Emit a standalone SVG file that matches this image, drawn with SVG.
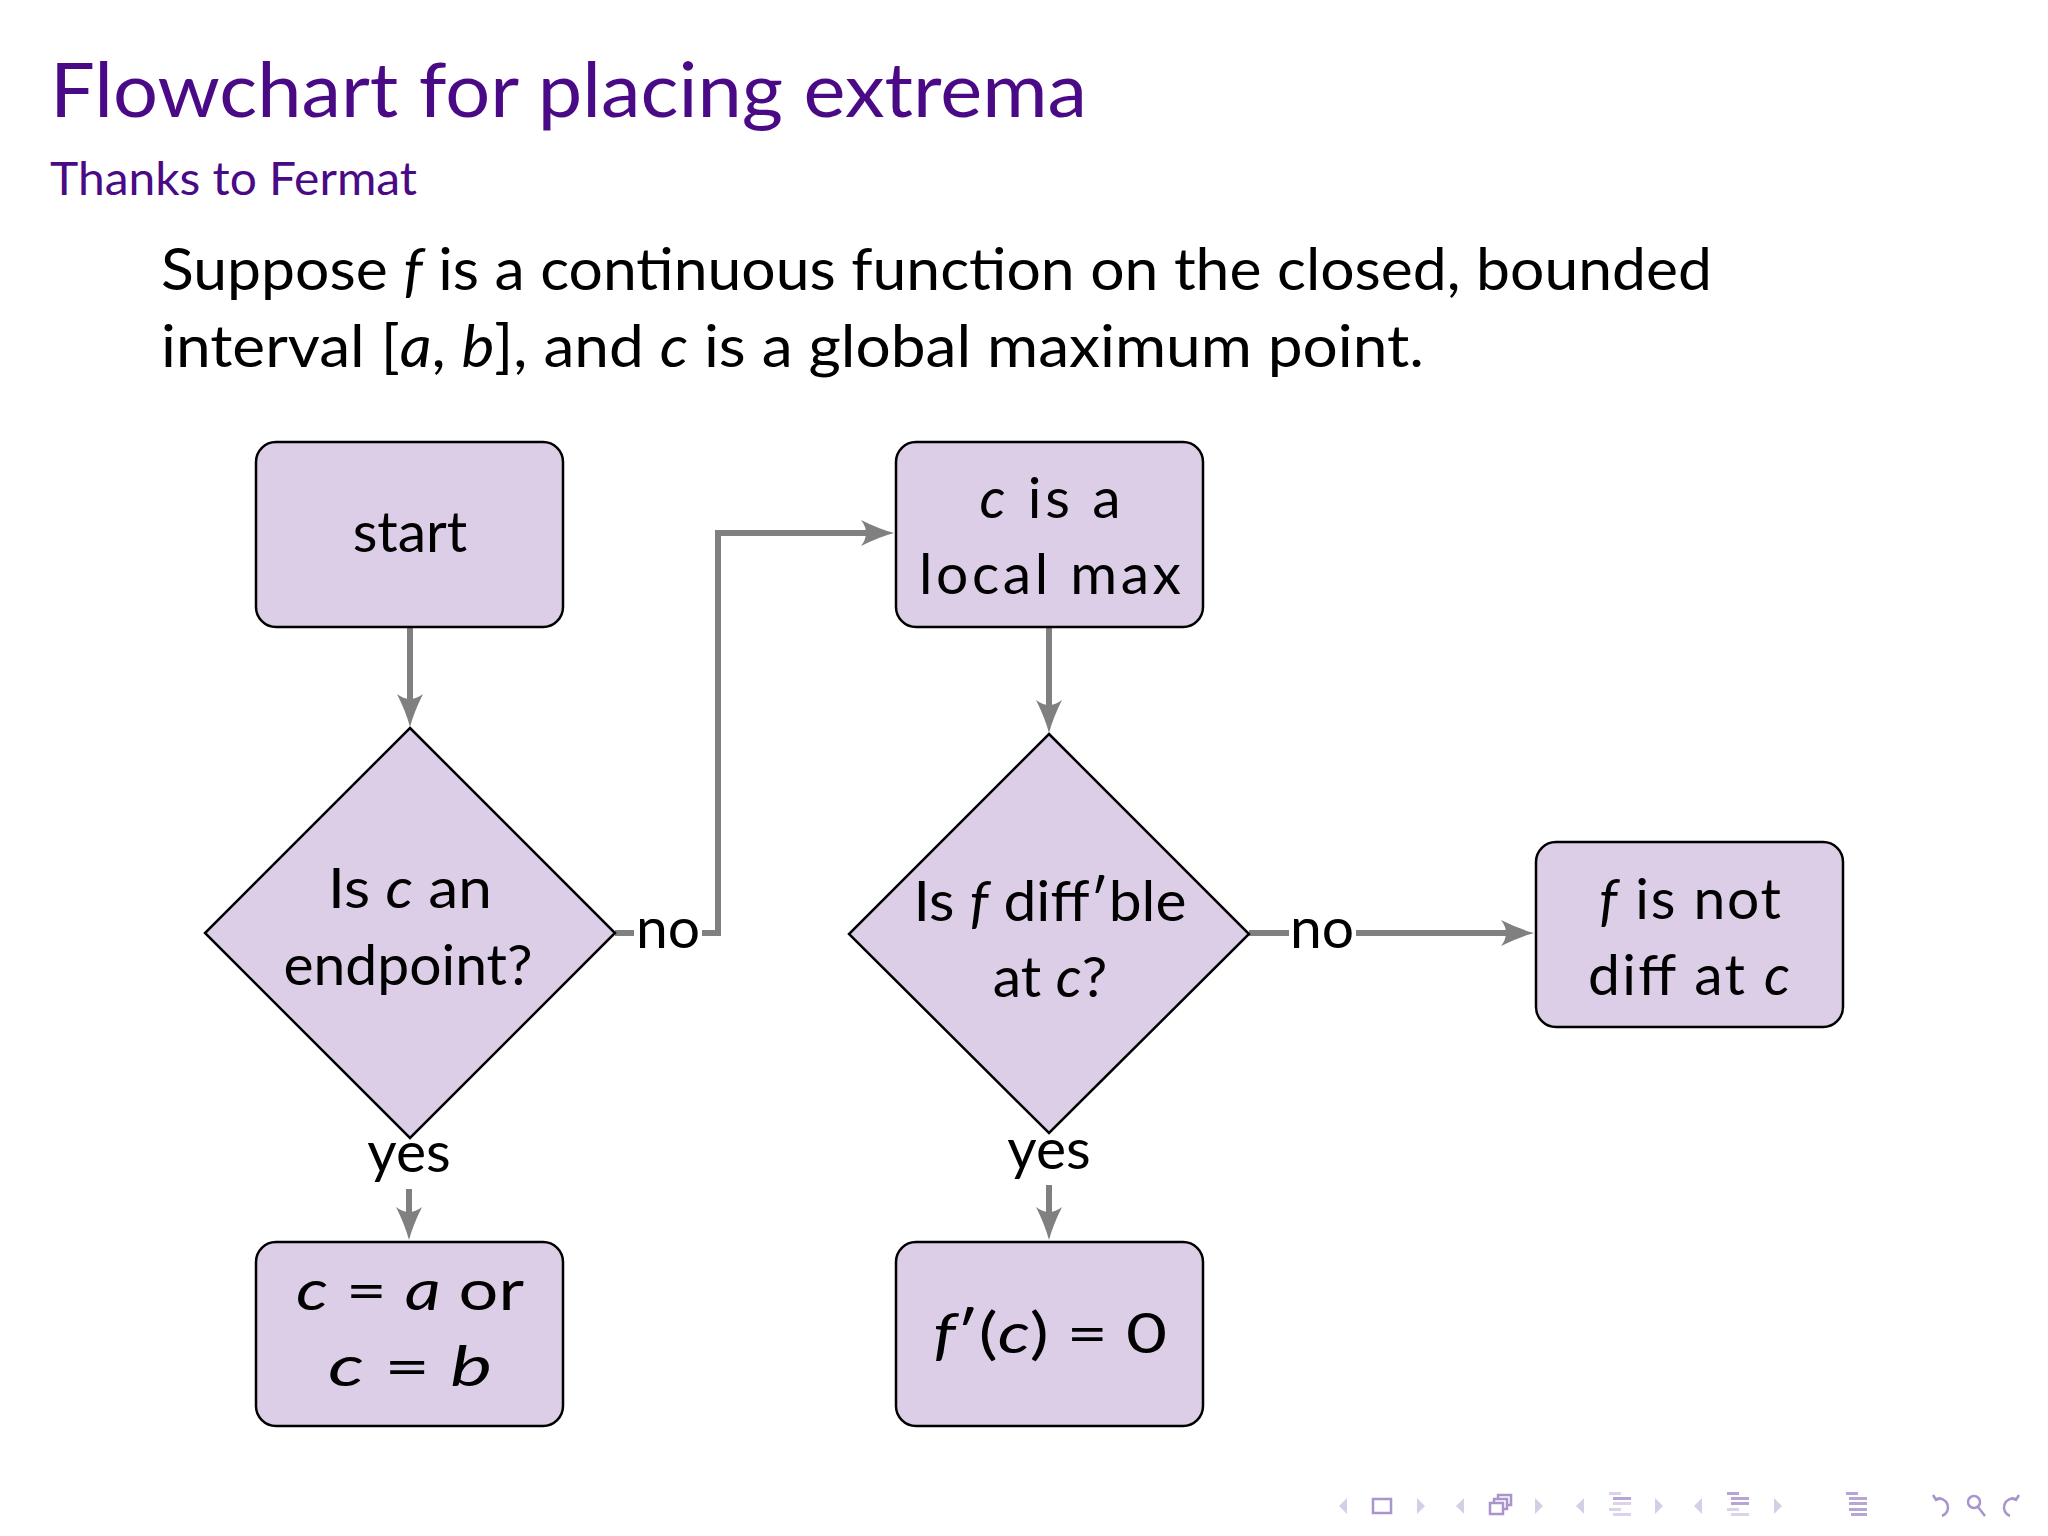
<svg xmlns="http://www.w3.org/2000/svg" width="2048" height="1536" viewBox="0 0 2048 1536">
<style>
text{font-family:Lato,"Open Sans","DejaVu Sans",sans-serif;}
.title{fill:#4A0A86;font-size:76px;}
.sub{fill:#4A0A86;font-size:46px;}
.body{fill:#000;font-size:58px;}
.nt{fill:#000;font-size:57px;text-anchor:middle;}
.i{font-style:italic;}
.node{fill:#DCCEE6;stroke:#000;stroke-width:2.5;}
.conn{fill:none;stroke:#808080;stroke-width:6;}
.lbg{fill:#FFFFFF;}
.navt{fill:#D6CEE6;}
.navs{fill:none;stroke:#A994CB;stroke-width:2.5;}
.navb{fill:#B7A5D3;}
.navl{fill:#DCD3EA;}
</style>
<defs>
<marker id="arr" markerUnits="userSpaceOnUse" viewBox="-36 -16 40 32" markerWidth="40" markerHeight="32" refX="-20" refY="0" orient="auto">
<path d="M0,0 Q-15,-4 -33,-13 Q-23,0 -33,13 Q-15,4 0,0 Z" fill="#808080"/>
</marker>
</defs>
<rect x="0" y="0" width="2048" height="1536" fill="#FFFFFF"/>

<g id="header">
<text class="title" x="50" y="117" textLength="1037" lengthAdjust="spacingAndGlyphs">Flowchart for placing extrema</text>
<text class="sub" x="50" y="195" textLength="367" lengthAdjust="spacingAndGlyphs">Thanks to Fermat</text>
<text class="body" x="161" y="290" textLength="1551" lengthAdjust="spacingAndGlyphs">Suppose <tspan class="i">f</tspan> is a continuous function on the closed, bounded</text>
<text class="body" x="161" y="367" textLength="1263" lengthAdjust="spacingAndGlyphs">interval [<tspan class="i">a</tspan>, <tspan class="i">b</tspan>], and <tspan class="i">c</tspan> is a global maximum point.</text>
</g>

<g id="connectors">
<path class="conn" d="M410,627 V707" marker-end="url(#arr)"/>
<path class="conn" d="M615,933 H718 V533 H874" marker-end="url(#arr)"/>
<path class="conn" d="M1049,627 V713" marker-end="url(#arr)"/>
<path class="conn" d="M1249,933 H1514" marker-end="url(#arr)"/>
<path class="conn" d="M409,1189 V1220" marker-end="url(#arr)"/>
<path class="conn" d="M1049,1185 V1220" marker-end="url(#arr)"/>
<rect class="lbg" x="634" y="905" width="68" height="56"/>
<text class="nt" x="668" y="948">no</text>
<rect class="lbg" x="1289" y="905" width="67" height="56"/>
<text class="nt" x="1322" y="948">no</text>
<text class="nt" x="409" y="1172">yes</text>
<text class="nt" x="1049" y="1169">yes</text>
</g>

<g id="node-start">
<rect class="node" x="256" y="442" width="307" height="185" rx="20"/>
<text class="nt" x="410" y="552">start</text>
</g>

<g id="node-endpoint">
<polygon class="node" points="410,728 615,933 410,1138 205,933"/>
<text class="nt" x="410" y="908" textLength="164" lengthAdjust="spacingAndGlyphs">Is <tspan class="i">c</tspan> an</text>
<text class="nt" x="408" y="985">endpoint?</text>
</g>

<g id="node-endval">
<rect class="node" x="256" y="1242" width="307" height="184" rx="20"/>
<text class="nt" x="410" y="1310" textLength="228" lengthAdjust="spacingAndGlyphs"><tspan class="i">c</tspan> = <tspan class="i">a</tspan> or</text>
<text class="nt" x="410" y="1386" textLength="164" lengthAdjust="spacingAndGlyphs"><tspan class="i">c</tspan> = <tspan class="i">b</tspan></text>
</g>

<g id="node-localmax">
<rect class="node" x="896" y="442" width="307" height="185" rx="20"/>
<text class="nt" x="1050" y="518" textLength="141" lengthAdjust="spacing"><tspan class="i">c</tspan> is a</text>
<text class="nt" x="1050" y="594" textLength="262" lengthAdjust="spacing">local max</text>
</g>

<g id="node-diffble">
<polygon class="node" points="1049,734 1249,934 1049,1133 849,934"/>
<text class="nt" x="1050" y="921" textLength="273" lengthAdjust="spacingAndGlyphs">Is <tspan class="i">f</tspan> diff′ble</text>
<text class="nt" x="1050" y="997">at <tspan class="i">c</tspan>?</text>
</g>

<g id="node-zero">
<rect class="node" x="896" y="1242" width="307" height="184" rx="20"/>
<text class="nt" x="1050" y="1353" textLength="234" lengthAdjust="spacingAndGlyphs"><tspan class="i">f</tspan>′(<tspan class="i">c</tspan>) = 0</text>
</g>

<g id="node-notdiff">
<rect class="node" x="1536" y="842" width="307" height="185" rx="20"/>
<text class="nt" x="1690" y="919" textLength="182" lengthAdjust="spacing"><tspan class="i">f</tspan> is not</text>
<text class="nt" x="1689" y="995" textLength="202" lengthAdjust="spacing">diff at <tspan class="i">c</tspan></text>
</g>

<g id="nav">
<polygon class="navt" points="1347,1498 1339,1506 1347,1514"/>
<rect class="navs" x="1373" y="1499" width="18" height="14"/>
<polygon class="navt" points="1417,1498 1425,1506 1417,1514"/>
<polygon class="navt" points="1464,1498 1456,1506 1464,1514"/>
<rect class="navs" x="1490" y="1503" width="13" height="11"/>
<polyline class="navs" points="1494,1503 1494,1499 1507,1499 1507,1509 1503,1509"/>
<polyline class="navs" points="1498,1499 1498,1495 1511,1495 1511,1505 1507,1505"/>
<polygon class="navt" points="1535,1498 1543,1506 1535,1514"/>
<polygon class="navt" points="1584,1498 1576,1506 1584,1514"/>
<rect class="navl" x="1609" y="1492" width="12" height="3"/>
<rect class="navb" x="1613" y="1497" width="18" height="3"/>
<rect class="navl" x="1613" y="1502" width="18" height="3"/>
<rect class="navl" x="1609" y="1508" width="12" height="3"/>
<rect class="navl" x="1613" y="1513" width="18" height="3"/>
<polygon class="navt" points="1655,1498 1663,1506 1655,1514"/>
<polygon class="navt" points="1702,1498 1694,1506 1702,1514"/>
<rect class="navb" x="1727" y="1492" width="12" height="3"/>
<rect class="navb" x="1731" y="1497" width="18" height="3"/>
<rect class="navb" x="1731" y="1502" width="18" height="3"/>
<rect class="navl" x="1727" y="1508" width="12" height="3"/>
<rect class="navl" x="1731" y="1513" width="18" height="3"/>
<polygon class="navt" points="1774,1498 1782,1506 1774,1514"/>
<rect class="navb" x="1846" y="1492" width="12" height="3"/>
<rect class="navb" x="1849" y="1497" width="18" height="3"/>
<rect class="navb" x="1849" y="1502" width="18" height="3"/>
<rect class="navb" x="1849" y="1508" width="18" height="3"/>
<rect class="navb" x="1851" y="1513" width="16" height="3"/>
<path class="navs" d="M1936,1499 A9,9 0 1 1 1942,1516"/>
<polyline class="navs" points="1933,1495 1936,1500 1941,1498"/>
<circle class="navs" cx="1974" cy="1502" r="6"/>
<line class="navs" x1="1978" y1="1507" x2="1985" y2="1516"/>
<path class="navs" d="M2016,1499 A9,9 0 1 0 2010,1516"/>
<polyline class="navs" points="2019,1495 2016,1500 2011,1498"/>
</g>
</svg>
